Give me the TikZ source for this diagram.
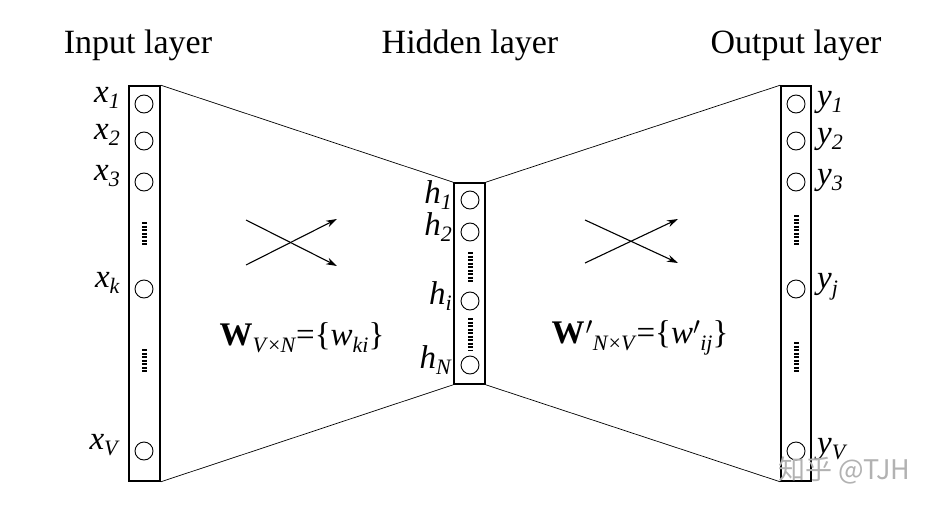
\documentclass[tikz,border=0pt]{standalone}
\usepackage{fontspec}
\setmainfont{Liberation Serif}
\newfontfamily\cjk{Noto Sans CJK SC}
\usetikzlibrary{arrows.meta}
\newcommand\vlab[2]{\textit{#1}\raisebox{-0.45ex}{\fontsize{22}{22}\selectfont\textit{#2}}}
\begin{document}
\begin{tikzpicture}[x=1pt,y=-1pt,
  box/.style={draw,line width=1.6pt},
  neu/.style={draw,circle,minimum size=18pt,inner sep=0pt,line width=0.9pt},
  dts/.style={line width=5pt,dash pattern=on 2pt off 1.5pt},
  conn/.style={line width=0.7pt},
  arr/.style={line width=1.1pt,-{Stealth[length=11pt,width=7pt]}},
  ttl/.style={font=\fontsize{34}{38}\selectfont},
  lab/.style={font=\fontsize{33}{36}\selectfont,inner sep=0pt},
  frm/.style={font=\fontsize{33}{36}\selectfont,inner sep=0pt}]
\useasboundingbox (0,0) rectangle (944,511);
% boxes
\node[box,minimum width=31pt,minimum height=395pt,inner sep=0pt] (inb) at (144.5,283.5) {};
\node[box,minimum width=31pt,minimum height=201pt,inner sep=0pt] (hb) at (469.5,283.5) {};
\node[box,minimum width=30pt,minimum height=395pt,inner sep=0pt] (ob) at (796,283.5) {};
% connectors
\draw[conn] (inb.north east) -- (hb.north west);
\draw[conn] (inb.south east) -- (hb.south west);
\draw[conn] (hb.north east) -- (ob.north west);
\draw[conn] (hb.south east) -- (ob.south west);
% titles
\node[ttl] (t1) at (138,45) {Input layer};
\node[ttl] (t2) at (470,45) {Hidden layer};
\node[ttl] (t3) at (796,45) {Output layer};
% input neurons
\foreach \n/\y/\s in {1/104/1,2/141/2,3/182/3,k/289/k,V/451/V}{
  \node[neu] (x\n) at (144,\y) {};
  \node[lab,anchor=east] (lx\n) at (120,\y-6) {\vlab{x}{\s}};
}
\draw[dts] (144,222) -- (144,245);
\draw[dts] (144,349) -- (144,372);
% hidden
\foreach \n/\y in {1/200,2/232,i/301,N/365}{
  \node[neu] (h\n) at (470,\y) {};
  \node[lab,anchor=east] (lh\n) at (452,\y-5) {\vlab{h}{\n}};
}
\draw[dts] (470,252) -- (470,282);
\draw[dts] (470,318) -- (470,350);
% output
\foreach \n/\y in {1/104,2/141,3/182,j/289,V/451}{
  \node[neu] (y\n) at (796,\y) {};
  \node[lab,anchor=west] (ly\n) at (817,\y-2) {\vlab{y}{\n}};
}
\draw[dts] (796,215) -- (796,245);
\draw[dts] (796,342) -- (796,372);
% crossing arrows
\coordinate (a1) at (246,220); \coordinate (a2) at (337,266);
\coordinate (a3) at (246,265); \coordinate (a4) at (337,219);
\draw[arr] (a1) -- (a2); \draw[arr] (a3) -- (a4);
\coordinate (b1) at (585,220); \coordinate (b2) at (678,263);
\coordinate (b3) at (585,263); \coordinate (b4) at (678,219);
\draw[arr] (b1) -- (b2); \draw[arr] (b3) -- (b4);
% formulas
\node[frm] (f1) at (302,338) {\textbf{W}\raisebox{-0.45ex}{\fontsize{22}{22}\selectfont\textit{V}×\textit{N}}=\{\vlab{w}{ki}\}};
\node[frm] (f2) at (640,338) {\textbf{W}\kern1pt$'$\raisebox{-0.45ex}{\fontsize{22}{22}\selectfont\textit{N}×\textit{V}}=\{\textit{w}$'$\raisebox{-0.45ex}{\fontsize{22}{22}\selectfont\textit{ij}}\}};
% watermark
\node[font=\cjk\fontsize{27}{30}\selectfont,text=black!30,anchor=west,inner sep=0pt] (wm) at (778,470) {知乎 @TJH};
\end{tikzpicture}
\end{document}
